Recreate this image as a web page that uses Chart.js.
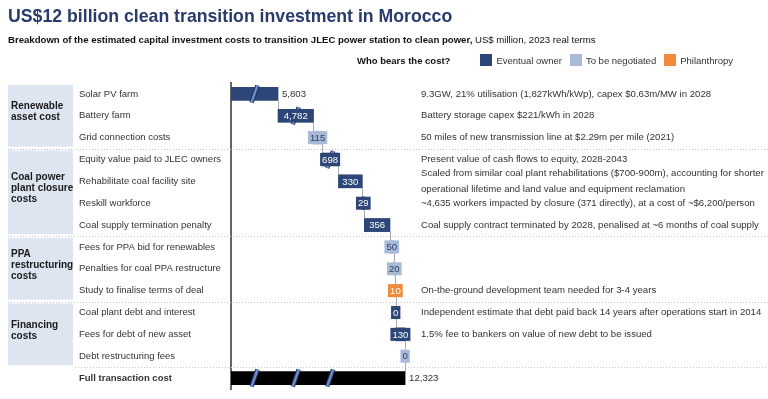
<!DOCTYPE html>
<html>
<head>
<meta charset="utf-8">
<script src="https://cdn.jsdelivr.net/npm/chart.js@4.4.1/dist/chart.umd.min.js"></script>
<style>
    body { margin: 0; background: #fff; font-family: "Liberation Sans", Arial, sans-serif; }
    #wrap { position: relative; width: 768px; height: 399px; overflow: hidden; }
    #chart { position: absolute; left: 0; top: 0; }
    .title { position: absolute; left: 8px; top: 6px; font-size: 17.7px; font-weight: bold; color: #283b6b; white-space: nowrap; }
    .sub { position: absolute; left: 8px; top: 34px; font-size: 9.6px; color: #111; white-space: nowrap; }
    .legend { position: absolute; left: 357px; top: 54px; font-size: 9.5px; color: #333; display: flex; align-items: center; white-space: nowrap; }
    .legend b { color: #111; margin-right: 30px; }
    .legend i { display: inline-block; width: 12px; height: 12px; margin-right: 4px; }
    .legend span { margin-right: 8px; }
</style>
</head>
<body>
<div id="wrap">
    <canvas id="chart" width="768" height="399"></canvas>
    <div class="title">US$12 billion clean transition investment in Morocco</div>
    <div class="sub"><b>Breakdown of the estimated capital investment costs to transition JLEC power station to clean power,</b> US$ million, 2023 real terms</div>
    <div class="legend">
        <b>Who bears the cost?</b>
        <i style="background:#2b4677"></i><span>Eventual owner</span>
        <i style="background:#a9bad7"></i><span>To be negotiated</span>
        <i style="background:#ee8a3a"></i><span>Philanthropy</span>
    </div>
</div>
<script>
// rows of the waterfall
const categories = [
    "Solar PV farm", "Battery farm", "Grid connection costs",
    "Equity value paid to JLEC owners", "Rehabilitate coal facility site", "Reskill workforce", "Coal supply termination penalty",
    "Fees for PPA bid for renewables", "Penalties for coal PPA restructure", "Study to finalise terms of deal",
    "Coal plant debt and interest", "Fees for debt of new asset", "Debt restructuring fees",
    "Full transaction cost"
];
const values = [5803, 4782, 115, 698, 330, 29, 356, 50, 20, 10, 0, 130, 0];
const totalValue = 12323;
const payers = ["owner", "owner", "negotiated", "owner", "owner", "owner", "owner",
    "negotiated", "negotiated", "philanthropy", "owner", "owner", "negotiated"];
// amount hidden by the axis break drawn on a bar
const hiddenByBreak = [5150, 4290, 0, 465, 0, 0, 0, 0, 0, 0, 0, 0, 0];
const notes = [
    ["9.3GW, 21% utilisation (1,827kWh/kWp), capex $0.63m/MW in 2028"],
    ["Battery storage capex $221/kWh in 2028"],
    ["50 miles of new transmission line at $2.29m per mile (2021)"],
    ["Present value of cash flows to equity, 2028-2043"],
    ["Scaled from similar coal plant rehabilitations ($700-900m), accounting for shorter", "operational lifetime and land value and equipment reclamation"],
    ["~4,635 workers impacted by closure (371 directly), at a cost of ~$6,200/person"],
    ["Coal supply contract terminated by 2028, penalised at ~6 months of coal supply"],
    [], [],
    ["On-the-ground development team needed for 3-4 years"],
    ["Independent estimate that debt paid back 14 years after operations start in 2014"],
    ["1.5% fee to bankers on value of new debt to be issued"],
    [], []
];
const groupNames = [["Renewable", "asset cost"], ["Coal power", "plant closure", "costs"], ["PPA", "restructuring", "costs"], ["Financing", "costs"]];
const groupRows = [[0, 2], [3, 6], [7, 9], [10, 12]];

const colors = { owner: "#2b4677", negotiated: "#a9bad7", philanthropy: "#ee8a3a", total: "#000" };
const FONT = "'Liberation Sans', Arial, sans-serif";

// cumulative floating bars, in broken-axis units
let run = 0;
const bars = values.map((v, i) => {
    const len = v - hiddenByBreak[i];
    const b = [run, run + len];
    run += len;
    return b;
});
bars.push([0, totalValue - hiddenByBreak.reduce((a, b) => a + b, 0)]);
const barColors = payers.map(p => colors[p]).concat([colors.total]);

function slash(ctx, x, top, bottom) {
    ctx.save();
    ctx.lineCap = "butt";
    ctx.beginPath();
    ctx.moveTo(x - 3, bottom + 2);
    ctx.lineTo(x + 3, top - 2);
    ctx.strokeStyle = "#1e3158";
    ctx.lineWidth = 4.5;
    ctx.stroke();
    ctx.strokeStyle = "#6a8ccc";
    ctx.lineWidth = 2.5;
    ctx.stroke();
    ctx.restore();
}

const decor = {
    id: "decor",
    beforeDatasetsDraw(chart) {
        const ctx = chart.ctx;
        const y = chart.scales.y;
        // group boxes
        ctx.save();
        groupRows.forEach((g, k) => {
            const top = y.getPixelForValue(g[0]) - 9;
            const bot = y.getPixelForValue(g[1]) + 9;
            ctx.fillStyle = "#dde5f1";
            ctx.fillRect(8, top, 65, bot - top);
            const lines = groupNames[k];
            const mid = (top + bot) / 2 - 4;
            ctx.fillStyle = "#1a1a1a";
            ctx.font = "bold 10px " + FONT;
            ctx.textBaseline = "middle";
            lines.forEach((t, j) => ctx.fillText(t, 11, mid + (j - (lines.length - 1) / 2) * 11));
        });
        // dotted separators
        ctx.strokeStyle = "#c8c8c8";
        ctx.lineWidth = 1;
        ctx.setLineDash([1, 2]);
        [2, 6, 9, 12].forEach(i => {
            const yy = Math.round((y.getPixelForValue(i) + y.getPixelForValue(i + 1)) / 2) + 0.5;
            ctx.beginPath();
            ctx.moveTo(i === 12 ? 75 : 8, yy);
            ctx.lineTo(768, yy);
            ctx.stroke();
        });
        ctx.setLineDash([]);
        // connectors
        const meta = chart.getDatasetMeta(0).data;
        ctx.strokeStyle = "#aaa";
        for (let i = 0; i < meta.length - 1; i++) {
            const a = meta[i], b = meta[i + 1];
            const xx = Math.round(a.x) + 0.5;
            ctx.beginPath();
            ctx.moveTo(xx, a.y + a.height / 2);
            ctx.lineTo(xx, b.y - b.height / 2);
            ctx.stroke();
        }
        // notes
        ctx.fillStyle = "#333";
        ctx.font = "9.6px " + FONT;
        ctx.textBaseline = "middle";
        notes.forEach((n, i) => {
            const yy = y.getPixelForValue(i);
            n.forEach((t, j) => ctx.fillText(t, 421, yy + (j - (n.length - 1) / 2) * 16));
        });
        ctx.restore();
    },
    afterDatasetsDraw(chart) {
        const ctx = chart.ctx;
        const meta = chart.getDatasetMeta(0).data;
        ctx.save();
        ctx.font = "9.6px " + FONT;
        ctx.textBaseline = "middle";
        const breakXs = [];
        meta.forEach((el, i) => {
            const left = Math.min(el.x, el.base), right = Math.max(el.x, el.base);
            const top = el.y - el.height / 2, bot = el.y + el.height / 2;
            if (i < values.length && hiddenByBreak[i] > 0) {
                const bx = (left + right) / 2;
                breakXs.push(bx);
                slash(ctx, bx, top, bot);
            }
            if (i === values.length) breakXs.forEach(bx => slash(ctx, bx, top, bot));
            const txt = (i < values.length ? values[i] : totalValue).toLocaleString("en-US");
            if (i === 0 || i === values.length) {
                ctx.fillStyle = "#333";
                ctx.textAlign = "left";
                ctx.fillText(txt, right + 4, el.y);
                return;
            }
            const tw = ctx.measureText(txt).width;
            const w = Math.max(right - left, tw + 4);
            const cx = (left + right) / 2;
            ctx.fillStyle = barColors[i];
            ctx.fillRect(cx - w / 2, top, w, bot - top);
            ctx.fillStyle = payers[i] === "negotiated" ? "#2b3f6c" : "#fff";
            ctx.textAlign = "center";
            ctx.fillText(txt, cx, el.y + 0.5);
        });
        ctx.restore();
    }
};

new Chart(document.getElementById("chart"), {
    type: "bar",
    data: {
        labels: categories,
        datasets: [{
            data: bars,
            backgroundColor: barColors,
            barThickness: 13,
            borderSkipped: false
        }]
    },
    options: {
        indexAxis: "y",
        responsive: false,
        animation: false,
        layout: { padding: { left: 79, right: 33, top: 83, bottom: 10 } },
        plugins: { legend: { display: false }, tooltip: { enabled: false } },
        scales: {
            x: { display: false, min: 0, max: 7000 },
            y: {
                grid: { display: false },
                border: { display: true, color: "#666", width: 2 },
                afterFit: s => { s.width = 152; },
                ticks: {
                    crossAlign: "far",
                    color: "#333",
                    font: c => ({ family: FONT, size: 9.5, weight: c.index === 13 ? "bold" : "normal" })
                }
            }
        }
    },
    plugins: [decor]
});
</script>
</body>
</html>
